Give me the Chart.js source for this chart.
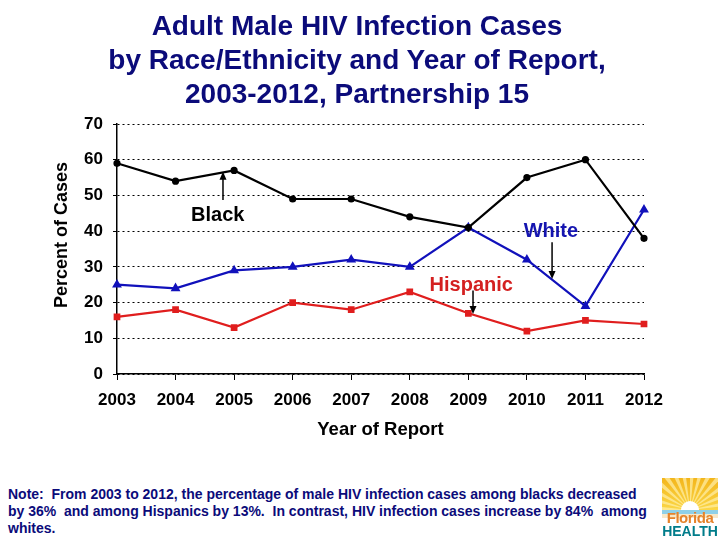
<!DOCTYPE html>
<html>
<head>
<meta charset="utf-8">
<script src="https://cdn.jsdelivr.net/npm/chart.js@4/dist/chart.umd.min.js"></script>
<style>
  html, body { margin:0; padding:0; background:#fff; }
  body { width:720px; height:540px; position:relative; overflow:hidden; font-family:"Liberation Sans", Arial, sans-serif; }
  #title { position:absolute; left:0; top:9px; width:714px; text-align:center; font-weight:bold; font-size:28px; line-height:34px; color:#0B0B7A; white-space:nowrap; }
  #wrap { position:absolute; left:0; top:0; width:720px; height:444px; }
  #note { position:absolute; left:8px; top:486px; font-weight:bold; font-size:14px; line-height:17px; color:#0B0B7A; white-space:nowrap; }
  #logo { position:absolute; left:662px; top:478px; width:56px; height:62px; }
  #logo canvas { position:absolute; left:0; top:0; }
  #logo .f { position:absolute; left:0; width:56px; text-align:center; font-weight:bold; }
</style>
</head>
<body>
<div id="wrap"><canvas id="c"></canvas></div>
<div id="title">Adult Male HIV Infection Cases<br>by Race/Ethnicity and Year of Report,<br>2003-2012, Partnership 15</div>
<div id="note">Note:&nbsp; From 2003 to 2012, the percentage of male HIV infection cases among blacks decreased<br>by 36%&nbsp; and among Hispanics by 13%.&nbsp; In contrast, HIV infection cases increase by 84%&nbsp; among<br>whites.</div>
<div id="logo"><canvas id="lg" width="56" height="40"></canvas>
  <div class="f" style="top:31px;font-size:15px;color:#E5832B;letter-spacing:-0.5px;">Florida</div>
  <div class="f" style="top:45px;font-size:14px;color:#007C8A;">HEALTH</div>
</div>
<script>
const years = ['2003','2004','2005','2006','2007','2008','2009','2010','2011','2012'];
const black = [59, 54, 57, 49, 49, 44, 41, 55, 60, 38];
const white = [25, 24, 29, 30, 32, 30, 41, 32, 19, 46];
const hispanic = [16, 18, 13, 20, 18, 23, 17, 12, 15, 14];
const yTicks = [0, 10, 20, 30, 40, 50, 60, 70];

const BLUE = '#1111BB', RED = '#E01E1E';
const FONT = '"Liberation Sans", Arial, sans-serif';

// labels with arrows: [text, color, textX(index), textY(value), arrowX(index), arrowFrom, arrowTo]
const notes = [
  ['Black', '#000', 1.72, 44.5, 1.81, 48.7, 56.6],
  ['White', '#1515B0', 7.41, 39.8, 7.43, 36.9, 26.6],
  ['Hispanic', '#D42020', 6.05, 24.9, 6.08, 23.4, 16.8]
];

const annot = {
  id: 'annot',
  afterDatasetsDraw(chart) {
    const ctx = chart.ctx, xs = chart.scales.x, ys = chart.scales.y;
    ctx.save();
    notes.forEach(n => {
      const tx = xs.getPixelForValue(n[2]), ty = ys.getPixelForValue(n[3]);
      ctx.font = 'bold 20px ' + FONT;
      ctx.fillStyle = n[1];
      ctx.textAlign = 'center';
      ctx.textBaseline = 'middle';
      ctx.fillText(n[0], tx, ty);
      const ax = xs.getPixelForValue(n[4]), a1 = ys.getPixelForValue(n[5]), a2 = ys.getPixelForValue(n[6]);
      const dir = a2 < a1 ? -1 : 1;
      ctx.strokeStyle = '#000'; ctx.lineWidth = 1.5;
      ctx.beginPath(); ctx.moveTo(ax, a1); ctx.lineTo(ax, a2 - dir * 6); ctx.stroke();
      ctx.fillStyle = '#000';
      ctx.beginPath(); ctx.moveTo(ax, a2); ctx.lineTo(ax - 3.5, a2 - dir * 8); ctx.lineTo(ax + 3.5, a2 - dir * 8); ctx.closePath(); ctx.fill();
    });
    // y axis title
    ctx.save();
    ctx.translate(62, 235);
    ctx.rotate(-Math.PI / 2);
    ctx.font = 'bold 18px ' + FONT;
    ctx.fillStyle = '#000';
    ctx.textAlign = 'center'; ctx.textBaseline = 'middle';
    ctx.fillText('Percent of Cases', 0, 0);
    ctx.restore();
    ctx.restore();
  }
};

new Chart(document.getElementById('c'), {
  type: 'line',
  data: {
    labels: years,
    datasets: [
      { label: 'Black', data: black, borderColor: '#000', backgroundColor: '#000', borderWidth: 2.2, pointStyle: 'circle', pointRadius: 2.5, tension: 0 },
      { label: 'White', data: white, borderColor: BLUE, backgroundColor: BLUE, borderWidth: 2.2, pointStyle: 'triangle', pointRadius: 3.5, tension: 0 },
      { label: 'Hispanic', data: hispanic, borderColor: RED, backgroundColor: RED, borderWidth: 2.2, pointStyle: 'rect', pointRadius: 3.2, tension: 0 }
    ]
  },
  options: {
    responsive: true,
    maintainAspectRatio: false,
    animation: false,
    layout: { padding: { top: 124, right: 76, left: 0, bottom: 0 } },
    plugins: { legend: { display: false }, tooltip: { enabled: false }, title: { display: false } },
    scales: {
      x: {
        offset: false,
        grid: { drawOnChartArea: false, drawTicks: true, tickLength: 6, color: '#000', tickColor: '#000' },
        border: { display: true, color: '#000', width: 1.5 },
        ticks: { color: '#000', font: { family: FONT, size: 17, weight: 'bold' }, padding: 10, maxRotation: 0, autoSkip: false },
        title: { display: true, text: 'Year of Report', color: '#000', font: { family: FONT, size: 18.5, weight: 'bold' }, padding: { top: 0, bottom: 3 } },
        afterFit(s) { s.height = 70; }
      },
      y: {
        min: 0, max: 70,
        afterBuildTicks(s) { s.ticks = yTicks.map(v => ({ value: v })); },
        grid: { color: '#000', lineWidth: 1, drawTicks: true, tickLength: 4, tickColor: '#000', tickBorderDash: [] },
        border: { display: true, color: '#000', width: 1.5, dash: [2, 3] },
        ticks: { color: '#000', font: { family: FONT, size: 17, weight: 'bold' }, padding: 10 },
        afterFit(s) { s.width = 117; }
      }
    }
  },
  plugins: [annot]
});

// logo graphic
(function () {
  const c = document.getElementById('lg').getContext('2d');
  const g = c.createLinearGradient(0, 0, 0, 34);
  g.addColorStop(0, '#F3B51B'); g.addColorStop(1, '#FBD94A');
  c.fillStyle = g; c.fillRect(0, 0, 56, 34);
  const cx = 28, cy = 32;
  c.fillStyle = 'rgba(255,240,170,0.7)';
  for (let i = 0; i < 14; i++) {
    const a0 = Math.PI + i * Math.PI / 14, a1 = a0 + Math.PI / 30;
    c.beginPath(); c.moveTo(cx, cy);
    c.lineTo(cx + 80 * Math.cos(a0), cy + 80 * Math.sin(a0));
    c.lineTo(cx + 80 * Math.cos(a1), cy + 80 * Math.sin(a1));
    c.closePath(); c.fill();
  }
  c.fillStyle = '#fff';
  c.beginPath(); c.arc(cx, cy, 9, Math.PI, 2 * Math.PI); c.fill();
  c.fillStyle = '#8FD0E8'; c.fillRect(0, 32, 56, 4);
  c.fillStyle = '#F7E8C8'; c.fillRect(0, 36, 56, 4);
})();
</script>
</body>
</html>
